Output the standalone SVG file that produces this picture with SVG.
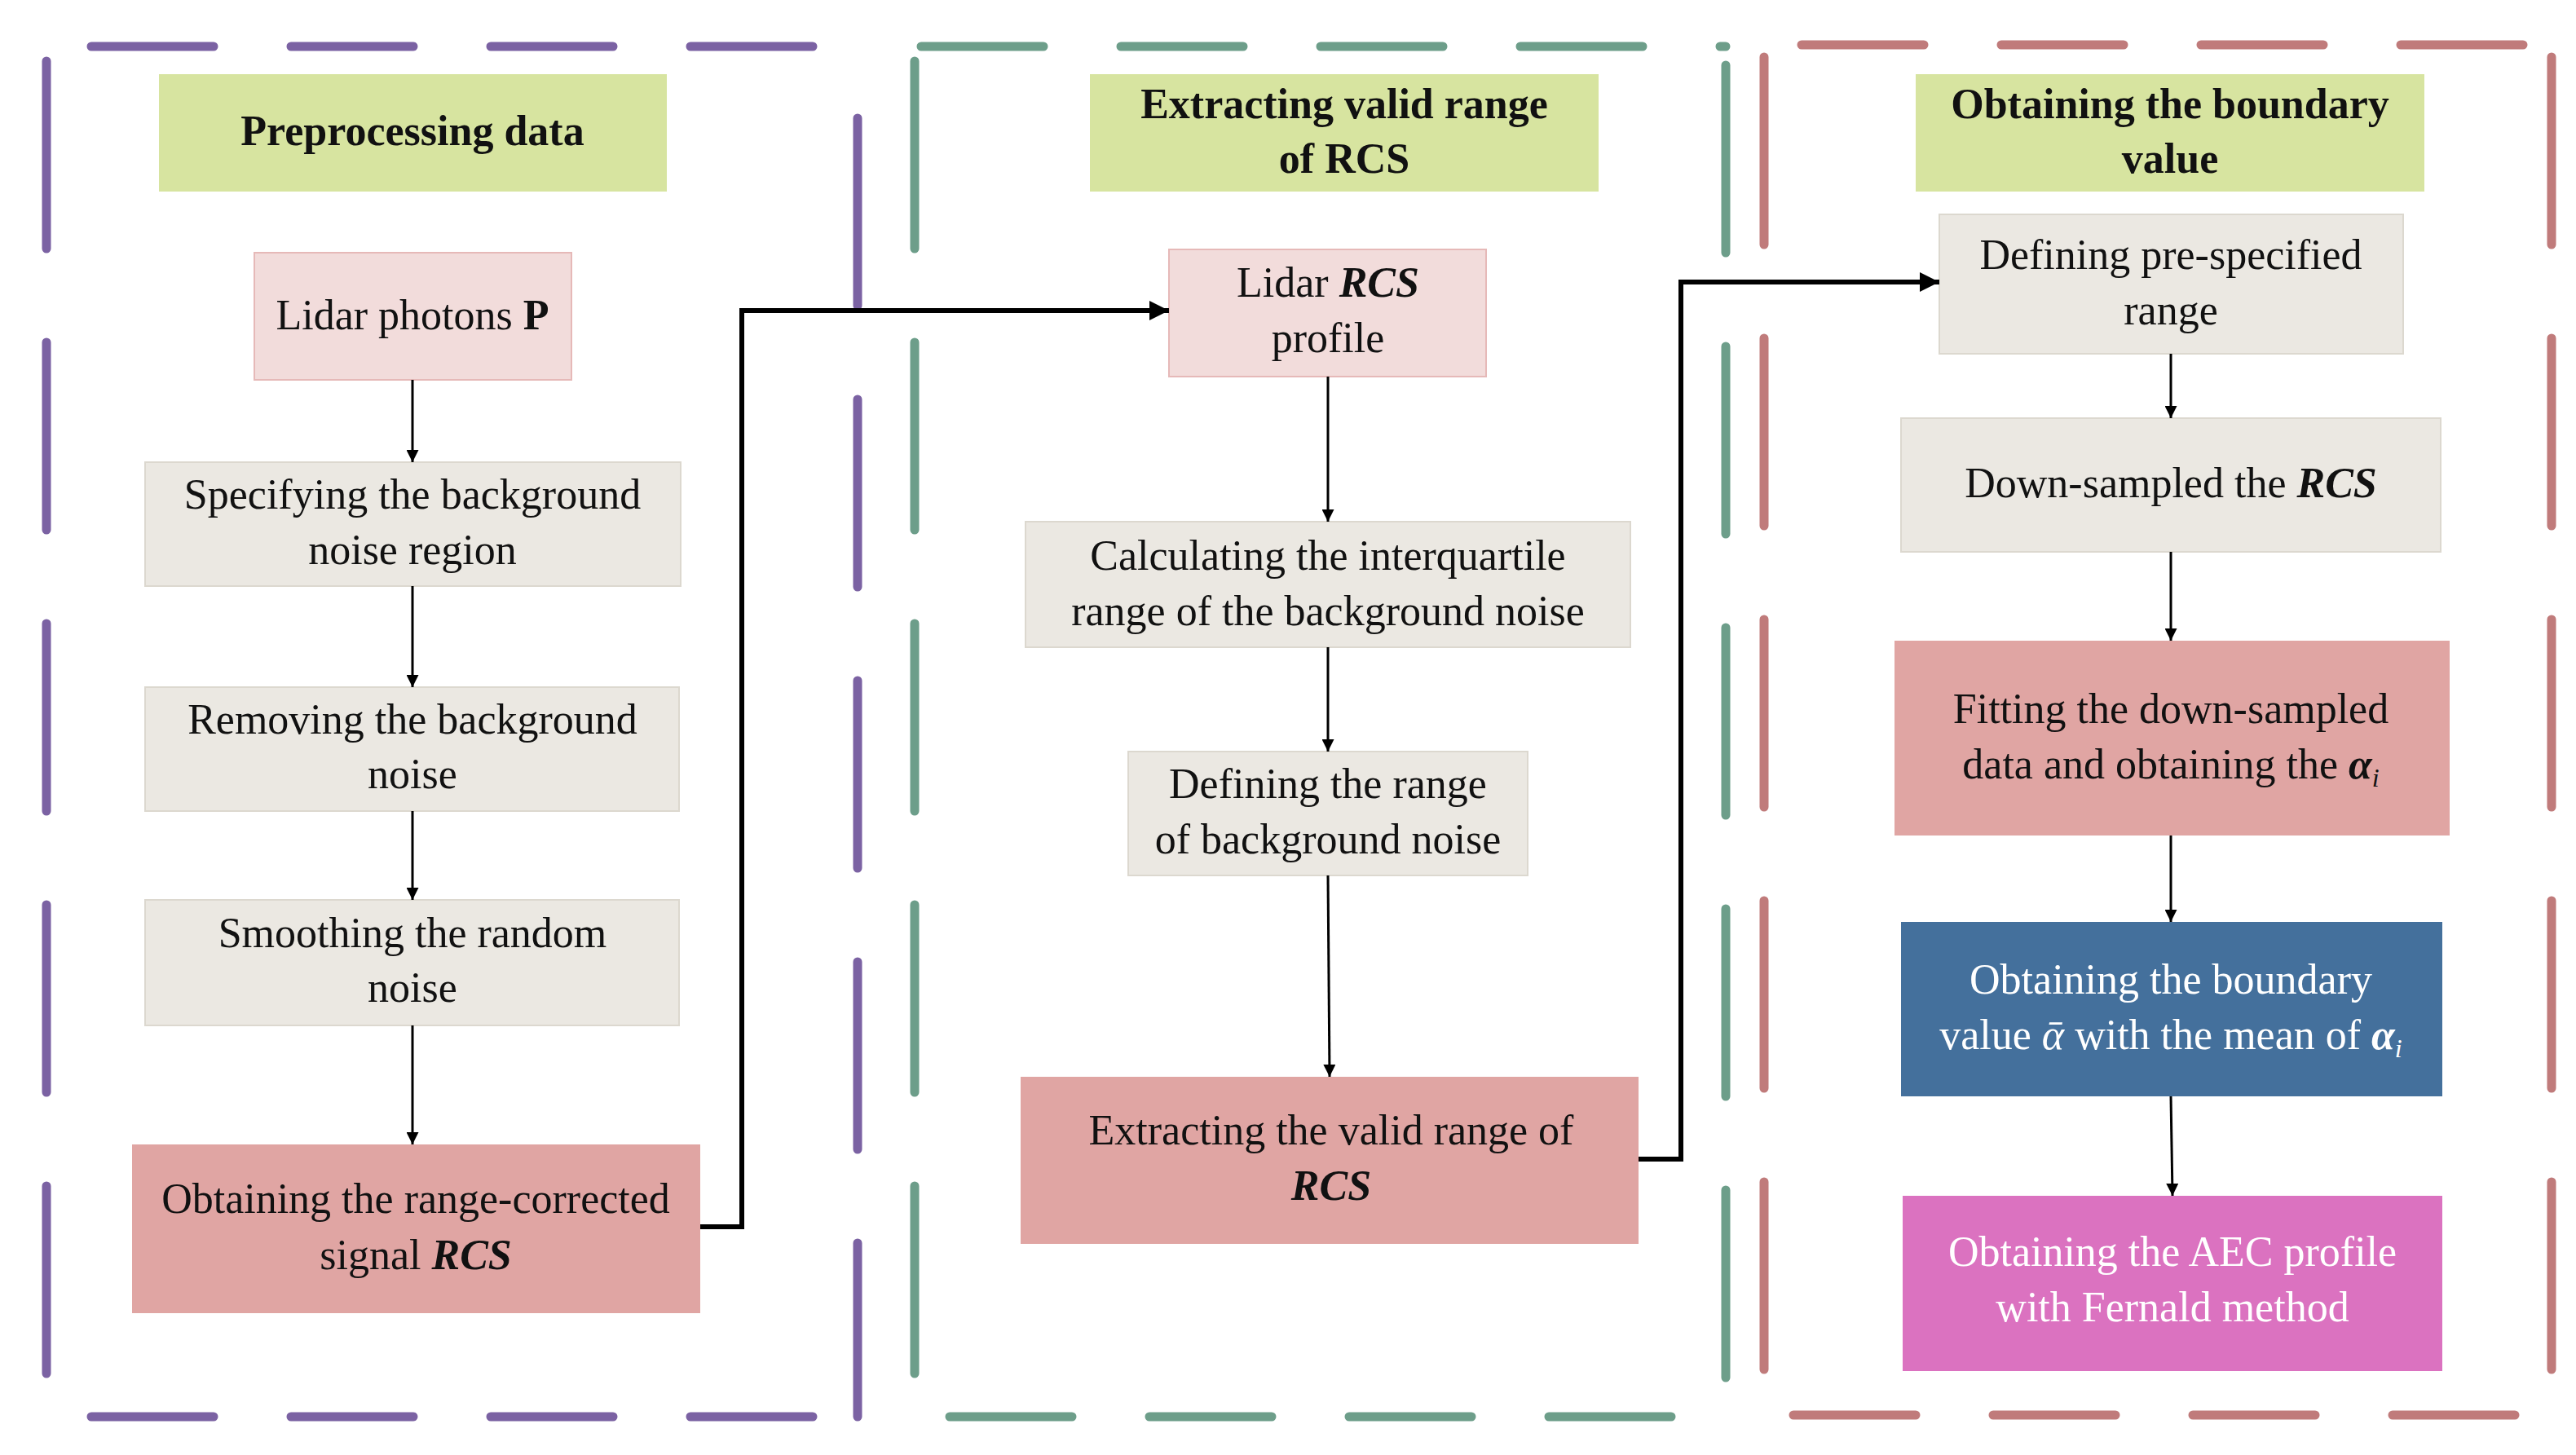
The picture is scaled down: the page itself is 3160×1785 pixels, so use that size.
<svg xmlns="http://www.w3.org/2000/svg" width="3160" height="1785" viewBox="0 0 3160 1785">
<style>
.t{font-family:'Liberation Serif','DejaVu Serif',serif;font-size:52px;text-anchor:middle;fill:#111}
.h{font-weight:bold}
.w{fill:#fff}
.hd{fill:#d7e4a0}
.pk{fill:#f2dcdb;stroke:#e6b9b8;stroke-width:2}
.gy{fill:#ebe8e2;stroke:#dcd8cf;stroke-width:2}
.rd{fill:#e0a5a3}
.bl{fill:#44709c}
.mg{fill:#db72c0}
.c{fill:none;stroke:#000;stroke-width:3}
.c2{fill:none;stroke:#000;stroke-width:6}
.dp{stroke:#7b62a3}.dg{stroke:#6d9e8a}.dr{stroke:#c07b7b}
.dh{fill:none;stroke-width:11;stroke-linecap:round;stroke-dasharray:150 95}
.dv{fill:none;stroke-width:11;stroke-linecap:round;stroke-dasharray:230 115}
</style>
<defs>
<marker id="a" viewBox="0 0 10 10" refX="10" refY="5" markerWidth="5" markerHeight="5" orient="auto" markerUnits="strokeWidth"><path d="M0,0L10,5L0,10z"/></marker>
<marker id="b" viewBox="0 0 10 10" refX="10" refY="5" markerWidth="4" markerHeight="4" orient="auto" markerUnits="strokeWidth"><path d="M0,0L10,5L0,10z"/></marker>
</defs>
<g id="frames">
<path class="dh dp" d="M112,57H1052M112,1738H1052"/>
<path class="dv dp" d="M57,75V1738M1052,145V1738"/>
<path class="dh dg" d="M1130,57H2117M1165,1738H2117"/>
<path class="dv dg" d="M1122,75V1720M2117,80V1738"/>
<path class="dh dr" d="M2210,55H3130M2200,1736H3130"/>
<path class="dv dr" d="M2164,70V1720M3130,70V1736"/>
</g>
<g id="h1"><rect class="hd" x="195" y="91" width="623" height="144"/><text class="t h" x="506" y="178">Preprocessing data</text></g>
<g id="h2"><rect class="hd" x="1337" y="91" width="624" height="144"/><text class="t h" x="1649" y="145">Extracting valid range</text><text class="t h" x="1649" y="212">of RCS</text></g>
<g id="h3"><rect class="hd" x="2350" y="91" width="624" height="144"/><text class="t h" x="2662" y="145">Obtaining the boundary</text><text class="t h" x="2662" y="212">value</text></g>

<g id="n1"><rect class="pk" x="312" y="310" width="389" height="156"/><text class="t" x="506" y="404">Lidar photons <tspan class="h">P</tspan></text></g>
<g id="n2"><rect class="gy" x="178" y="567" width="657" height="152"/><text class="t" x="506" y="624">Specifying the background</text><text class="t" x="506" y="692">noise region</text></g>
<g id="n3"><rect class="gy" x="178" y="843" width="655" height="152"/><text class="t" x="506" y="900">Removing the background</text><text class="t" x="506" y="967">noise</text></g>
<g id="n4"><rect class="gy" x="178" y="1104" width="655" height="154"/><text class="t" x="506" y="1162">Smoothing the random</text><text class="t" x="506" y="1229">noise</text></g>
<g id="n5"><rect class="rd" x="162" y="1404" width="697" height="207"/><text class="t" x="510" y="1488">Obtaining the range-corrected</text><text class="t" x="510" y="1557">signal <tspan class="h" font-style="italic">RCS</tspan></text></g>

<g id="n6"><rect class="pk" x="1434" y="306" width="389" height="156"/><text class="t" x="1629" y="364">Lidar <tspan class="h" font-style="italic">RCS</tspan></text><text class="t" x="1629" y="432">profile</text></g>
<g id="n7"><rect class="gy" x="1258" y="640" width="742" height="154"/><text class="t" x="1629" y="699">Calculating the interquartile</text><text class="t" x="1629" y="767">range of the background noise</text></g>
<g id="n8"><rect class="gy" x="1384" y="922" width="490" height="152"/><text class="t" x="1629" y="979">Defining the range</text><text class="t" x="1629" y="1047">of background noise</text></g>
<g id="n9"><rect class="rd" x="1252" y="1321" width="758" height="205"/><text class="t" x="1633" y="1404">Extracting the valid range of</text><text class="t" x="1633" y="1472"><tspan class="h" font-style="italic">RCS</tspan></text></g>

<g id="n10"><rect class="gy" x="2379" y="263" width="569" height="171"/><text class="t" x="2663" y="330">Defining pre-specified</text><text class="t" x="2663" y="398">range</text></g>
<g id="n11"><rect class="gy" x="2332" y="513" width="662" height="164"/><text class="t" x="2663" y="610">Down-sampled the <tspan class="h" font-style="italic">RCS</tspan></text></g>
<g id="n12"><rect class="rd" x="2324" y="786" width="681" height="239"/><text class="t" x="2663" y="887">Fitting the down-sampled</text><text class="t" x="2663" y="955">data and obtaining the <tspan class="h" font-style="italic">α</tspan><tspan font-style="italic" font-size="32" dy="10">i</tspan></text></g>
<g id="n13"><rect class="bl" x="2332" y="1131" width="664" height="214"/><text class="t w" x="2663" y="1219">Obtaining the boundary</text><text class="t w" x="2663" y="1287">value <tspan font-style="italic">ᾱ</tspan> with the mean of <tspan class="h" font-style="italic">α</tspan><tspan font-style="italic" font-size="32" dy="10">i</tspan></text></g>
<g id="n14"><rect class="mg" x="2334" y="1467" width="662" height="215"/><text class="t w" x="2665" y="1553">Obtaining the AEC  profile</text><text class="t w" x="2665" y="1621">with Fernald method</text></g>

<g id="connectors">
<path class="c" marker-end="url(#a)" d="M506,466V567"/>
<path class="c" marker-end="url(#a)" d="M506,719V843"/>
<path class="c" marker-end="url(#a)" d="M506,995V1104"/>
<path class="c" marker-end="url(#a)" d="M506,1258V1404"/>
<path class="c2" marker-end="url(#b)" d="M859,1505H910V381H1434"/>
<path class="c" marker-end="url(#a)" d="M1629,462V640"/>
<path class="c" marker-end="url(#a)" d="M1629,794V922"/>
<path class="c" marker-end="url(#a)" d="M1629,1074L1631,1321"/>
<path class="c2" marker-end="url(#b)" d="M2010,1422H2062V346H2379"/>
<path class="c" marker-end="url(#a)" d="M2663,434V513"/>
<path class="c" marker-end="url(#a)" d="M2663,677V786"/>
<path class="c" marker-end="url(#a)" d="M2663,1025V1131"/>
<path class="c" marker-end="url(#a)" d="M2663,1345L2665,1467"/>
</g>
</svg>
